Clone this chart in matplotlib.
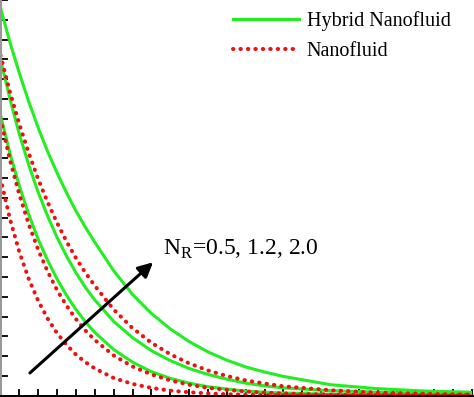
import numpy as np
import matplotlib.pyplot as plt

eta = [0, 0.1, 0.2, 0.3, 0.4, 0.5, 0.6, 0.7, 0.8, 0.9, 1.0,
       1.2, 1.4, 1.6, 1.8, 2.0, 2.2, 2.4, 2.6, 2.8, 3.0, 3.5, 4.0, 4.5, 5.0]

# Hybrid nanofluid, N_R = 0.5, 1.2, 2.0
hybrid_05 = [0.71, 0.613, 0.53, 0.458, 0.395, 0.342, 0.295, 0.254, 0.218, 0.187, 0.16,
             0.117, 0.085, 0.061, 0.044, 0.032, 0.023, 0.017, 0.012, 0.009, 0.007, 0.004, 0.003, 0.002, 0.001]
hybrid_12 = [0.85, 0.75, 0.661, 0.583, 0.514, 0.454, 0.40, 0.353, 0.311, 0.274, 0.242,
             0.188, 0.147, 0.114, 0.089, 0.069, 0.054, 0.042, 0.032, 0.025, 0.020, 0.013, 0.009, 0.006, 0.004]
hybrid_20 = [0.98, 0.893, 0.815, 0.743, 0.677, 0.617, 0.563, 0.513, 0.467, 0.426, 0.388,
             0.316, 0.256, 0.208, 0.169, 0.137, 0.111, 0.090, 0.073, 0.060, 0.049, 0.028, 0.018, 0.012, 0.009]

# Nanofluid, N_R = 0.5, 1.2, 2.0
nano_05 = [0.55, 0.447, 0.363, 0.295, 0.24, 0.195, 0.158, 0.129, 0.104, 0.085, 0.069,
           0.045, 0.030, 0.020, 0.013, 0.009, 0.006, 0.004, 0.003, 0.002, 0.001, 0.001, 0.0, 0.0, 0.0]
nano_12 = [0.70, 0.596, 0.508, 0.433, 0.369, 0.314, 0.267, 0.228, 0.194, 0.165, 0.141,
           0.102, 0.074, 0.054, 0.039, 0.028, 0.020, 0.015, 0.011, 0.008, 0.006, 0.003, 0.002, 0.001, 0.001]
nano_20 = [0.86, 0.768, 0.686, 0.613, 0.547, 0.489, 0.437, 0.39, 0.348, 0.311, 0.278,
           0.218, 0.171, 0.134, 0.105, 0.082, 0.064, 0.050, 0.039, 0.031, 0.024, 0.014, 0.008, 0.005, 0.003]

green = "#22ee22"
red = "#ee1111"

plt.rcParams['font.family'] = ['Liberation Serif', 'DejaVu Serif']

fig = plt.figure(figsize=(4.74, 3.97), dpi=100)
ax = fig.add_axes([0.5 / 474, 1.2 / 397, 471.5 / 474, 395.8 / 397])

for i, h in enumerate([hybrid_05, hybrid_12, hybrid_20]):
    ax.plot(eta, h, color=green, lw=2.2, label="Hybrid Nanofluid" if i == 0 else None)
for i, n in enumerate([nano_05, nano_12, nano_20]):
    ax.plot(eta, n, color=red, lw=2.9, linestyle=(0, (0.1, 1.75)), dash_capstyle='round',
            label="Nanofluid" if i == 0 else None)

ax.set_xlim(0, 5)
ax.set_ylim(0, 1)
ax.set_xticks(np.arange(0, 5.01, 0.2))
ax.set_yticks(np.arange(0, 1.001, 0.05))
ax.tick_params(direction='in', length=5, width=1.3, labelbottom=False, labelleft=False)
ax.spines['top'].set_visible(False)
ax.spines['right'].set_visible(False)
ax.spines['bottom'].set_linewidth(2.2)
ax.spines['left'].set_linewidth(1.5)
ax.spines['left'].set_color('#999999')

ax.annotate("", xy=(1.64, 0.342), xytext=(0.29, 0.053),
            arrowprops=dict(arrowstyle='-|>', color='black', lw=2.2, mutation_scale=22))
ax.text(1.72, 0.355, r"N$_\mathregular{R}$=0.5, 1.2, 2.0", fontsize=17)

ax.legend(loc='upper left', bbox_to_anchor=(233 / 474, 1 - 11 / 397), bbox_transform=fig.transFigure,
          frameon=False, fontsize=14.5, handlelength=3.3, handletextpad=0.35,
          borderpad=0, borderaxespad=0, labelspacing=0.55)

fig.savefig("out.png", dpi=100)
